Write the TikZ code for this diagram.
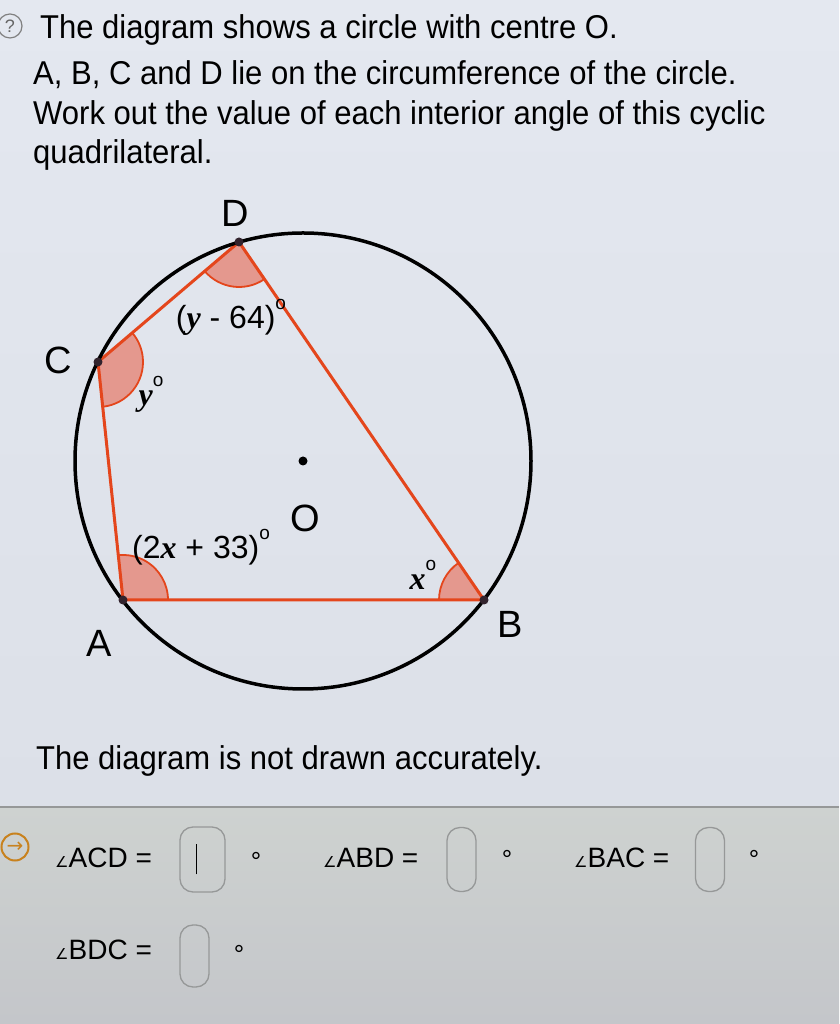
\documentclass[tikz,border=0pt]{standalone}
\usepackage{fontspec}
\setmainfont{Liberation Sans}
\newfontfamily\headfont[FakeStretch=0.94]{Liberation Sans}
\newfontfamily\serifit{Liberation Serif}
\newfontfamily\djv{DejaVu Sans}
\usetikzlibrary{angles}
\definecolor{redl}{RGB}{228,70,28}
\definecolor{sect}{RGB}{228,152,142}
\definecolor{bgtop}{RGB}{228,232,240}
\definecolor{bgtop2}{RGB}{220,224,232}
\definecolor{bgbot}{RGB}{206,210,208}
\definecolor{bgbot2}{RGB}{196,198,202}
\definecolor{boxg}{RGB}{150,152,152}
\definecolor{arrowo}{RGB}{200,130,30}
\definecolor{dotc}{RGB}{50,35,45}
\newcommand{\vx}[1]{{\serifit\bfseries\itshape #1}}
\newcommand{\dg}{\raisebox{0.6em}{\fontsize{19}{19}\selectfont o}}
\begin{document}
\begin{tikzpicture}[x=1pt,y=1pt,
  head/.style={font=\headfont\fontsize{33}{33}\selectfont, anchor=base west, inner sep=0pt},
  ptlabel/.style={font=\fontsize{38}{38}\selectfont, inner sep=0pt},
  anglabel/.style={font=\fontsize{32}{32}\selectfont, inner sep=0pt},
  quad/.style={draw=redl, line width=3pt, line join=round},
  sector/.style={draw=redl, line width=1.8pt, fill=sect, angle radius=45pt},
  ansbox/.style={draw=boxg, line width=1.3pt, rounded corners=13pt, inner sep=0pt},
  anstext/.style={font=\fontsize{28}{28}\selectfont, anchor=base west, inner sep=0pt},
  degmark/.style={font=\fontsize{26}{26}\selectfont, anchor=base, inner sep=0pt},
  vdot/.style={fill=dotc, circle, inner sep=0pt, minimum size=9pt}
]
% background
\useasboundingbox (0,0) rectangle (839,1024);
\shade[top color=bgtop, bottom color=bgtop2] (0,217) rectangle (839,1024);
\shade[top color=bgbot, bottom color=bgbot2] (0,0) rectangle (839,217);
\draw[color=boxg, line width=1.5pt] (0,217) -- (839,217);

% header
\node[draw=gray, circle, line width=1.2pt, minimum size=24pt, inner sep=0pt,
      font=\fontsize{18}{18}\selectfont, text=gray!80!black] (qicon) at (10,998) {?};
\node[head] (l1) at (40,985) {The diagram shows a circle with centre O.};
\node[head] (l2) at (33,939) {A, B, C and D lie on the circumference of the circle.};
\node[head] (l3) at (33,899) {Work out the value of each interior angle of this cyclic};
\node[head] (l4) at (33,860) {quadrilateral.};

% geometry
\coordinate (O) at (303,563);
\coordinate (D) at (239,782);
\coordinate (C) at (98,662);
\coordinate (A) at (123,424);
\coordinate (B) at (484,424);

\pic[sector] {angle = B--A--C};
\pic[sector] {angle = D--B--A};
\pic[sector] {angle = A--C--D};
\pic[sector] {angle = C--D--B};

\draw[quad] (A) -- (B) -- (D) -- (C) -- cycle;
\draw[black, line width=3.5pt] (O) circle (228pt);

\node[vdot] (dA) at (A) {};
\node[vdot] (dB) at (B) {};
\node[vdot] (dC) at (C) {};
\node[vdot] (dD) at (D) {};
\node[vdot, fill=black, minimum size=9pt] (dO) at (O) {};

% point labels
\node[ptlabel] (lD) at (235,811) {D};
\node[ptlabel] (lC) at (58,664) {C};
\node[ptlabel] (lA) at (99,381) {A};
\node[ptlabel] (lB) at (510,400) {B};
\node[ptlabel] (lO) at (305,506) {O};

% angle labels
\node[anglabel] (aD) at (231,707) {(\vx{y} - 64)\dg};
\node[anglabel] (aC) at (151,630) {\vx{y}\dg};
\node[anglabel] (aA) at (201,477) {(2\vx{x} + 33)\dg};
\node[anglabel] (aB) at (423,449) {\vx{x}\dg};

% note
\node[head] (note) at (36,254) {The diagram is not drawn accurately.};

% answers
\node[draw=arrowo, circle, line width=2pt, minimum size=27pt, inner sep=0pt,
      text=arrowo, font=\djv\fontsize{20}{20}\selectfont] (arrowicon) at (15,177) {→};

\node[anstext] (tACD) at (55,156) {{\djv\fontsize{15}{15}\selectfont ∠}ACD =};
\node[ansbox, minimum width=45pt, minimum height=65pt] (bACD) at (202.5,164.5) {};
\draw[black, line width=1.2pt] ([xshift=-6pt,yshift=-15pt]bACD.center) -- ([xshift=-6pt,yshift=15pt]bACD.center);
\node[degmark] (gACD) at (256,153) {°};

\node[anstext] (tABD) at (323,156) {{\djv\fontsize{15}{15}\selectfont ∠}ABD =};
\node[ansbox, minimum width=29pt, minimum height=64pt] (bABD) at (461.5,164.5) {};
\node[degmark] (gABD) at (507,155) {°};

\node[anstext] (tBAC) at (574,156) {{\djv\fontsize{15}{15}\selectfont ∠}BAC =};
\node[ansbox, minimum width=29pt, minimum height=64pt] (bBAC) at (710,164.5) {};
\node[degmark] (gBAC) at (754,155) {°};

\node[anstext] (tBDC) at (55,64) {{\djv\fontsize{15}{15}\selectfont ∠}BDC =};
\node[ansbox, minimum width=29pt, minimum height=62pt] (bBDC) at (194.5,68) {};
\node[degmark] (gBDC) at (239,60) {°};
\end{tikzpicture}
\end{document}
